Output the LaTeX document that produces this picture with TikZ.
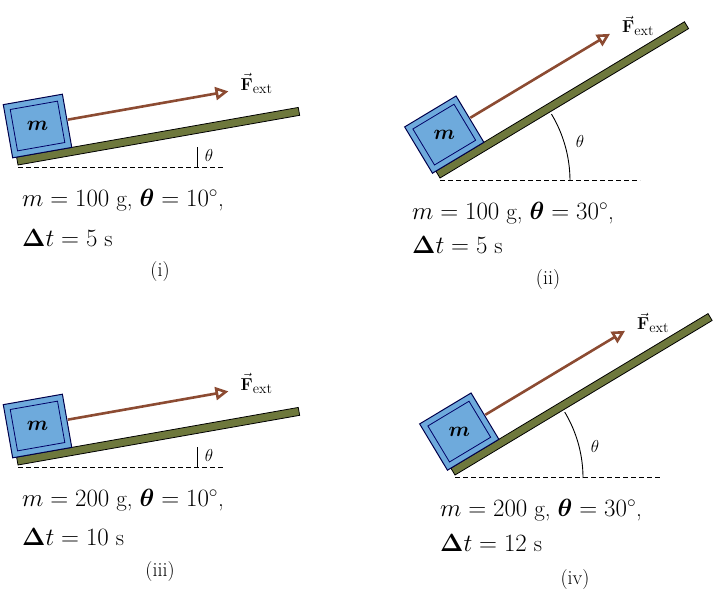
\documentclass[tikz,border=0pt]{standalone}
\usepackage{amsmath,bm}
\usetikzlibrary{arrows.meta}
\definecolor{plank}{RGB}{110,120,60}
\definecolor{blockc}{RGB}{110,170,220}
\definecolor{arrowc}{RGB}{140,75,50}
\tikzset{
 plankst/.style={fill=plank,draw=black,line width=0.8pt},
 blockst/.style={fill=blockc,draw=black!70!blue,line width=1pt},
 innerst/.style={draw=black!60!blue,line width=0.8pt},
 forcest/.style={draw=arrowc,line width=2.6pt,-{Triangle[open,length=13pt,width=13pt]}},
 dashst/.style={dashed,line width=1pt,dash pattern=on 5pt off 3pt},
 txt/.style={anchor=west,font=\fontsize{23}{26}\selectfont,inner sep=0pt},
 captxt/.style={font=\fontsize{20}{23}\selectfont,inner sep=0pt},
 flab/.style={font=\fontsize{19}{22}\selectfont,anchor=west,inner sep=0pt},
 thst/.style={font=\fontsize{17}{20}\selectfont},
}
\newcommand{\incl}[6]{% name, x, y, angle, length, dash end
 \begin{scope}[shift={(#2,#3)}]
  \draw[dashst] (0,-3) -- (#6,-3);
  \begin{scope}[rotate=#4]
   \draw[plankst] (0,0) rectangle (#5,8);
   \draw[blockst] (-4,8) rectangle (56,62);
   \draw[innerst] (2,14) rectangle (50,56);
   \node[font=\fontsize{20}{22}\selectfont] (#1m) at (26,35) {$\bm{m}$};
   \coordinate (#1s) at (57,36);
   \coordinate (#1t) at (220,36);
   \draw[forcest] (#1s) -- (#1t);
  \end{scope}
  \node[flab] (#1F) at ([xshift=12pt,yshift=8pt]#1t) {$\vec{\mathbf{F}}_{\mathrm{ext}}$};
 \end{scope}
}
\begin{document}
\begin{tikzpicture}[x=1pt,y=1pt]
\useasboundingbox[fill=white] (0,0) rectangle (714,599);
% (i)
\incl{a}{18}{434}{10}{286}{207}
\draw[line width=0.9pt] (197,431) -- (197,452);
\node[thst] (ath) at (209,443) {$\theta$};
\node[txt] (a1) at (22,399) {$m = 100$ g, $\bm{\theta} = 10^\circ$,};
\node[txt] (a2) at (22,361) {$\bm{\Delta} t = 5$ s};
\node[captxt] (a3) at (160,327) {(i)};
% (ii)
\incl{b}{440}{421}{31}{290}{200}
\draw[line width=0.9pt] (440,418) ++(0:130) arc[start angle=0,end angle=31,radius=130];
\node[thst] (bth) at (580,457) {$\theta$};
\node[txt] (b1) at (412,386) {$m = 100$ g, $\bm{\theta} = 30^\circ$,};
\node[txt] (b2) at (412,354) {$\bm{\Delta} t = 5$ s};
\node[captxt] (b3) at (548,319) {(ii)};
% (iii)
\incl{c}{18}{134}{10}{286}{207}
\draw[line width=0.9pt] (197,131) -- (197,152);
\node[thst] (cth) at (209,143) {$\theta$};
\node[txt] (c1) at (22,99) {$m = 200$ g, $\bm{\theta} = 10^\circ$,};
\node[txt] (c2) at (22,62) {$\bm{\Delta} t = 10$ s};
\node[captxt] (c3) at (160,27) {(iii)};
% (iv)
\incl{d}{455}{124}{31}{300}{205}
\draw[line width=0.9pt] (455,121) ++(0:128) arc[start angle=0,end angle=31,radius=128];
\node[thst] (dth) at (595,152) {$\theta$};
\node[txt] (d1) at (440,89) {$m = 200$ g, $\bm{\theta} = 30^\circ$,};
\node[txt] (d2) at (440,56) {$\bm{\Delta} t = 12$ s};
\node[captxt] (d3) at (575,19) {(iv)};
\end{tikzpicture}
\end{document}
